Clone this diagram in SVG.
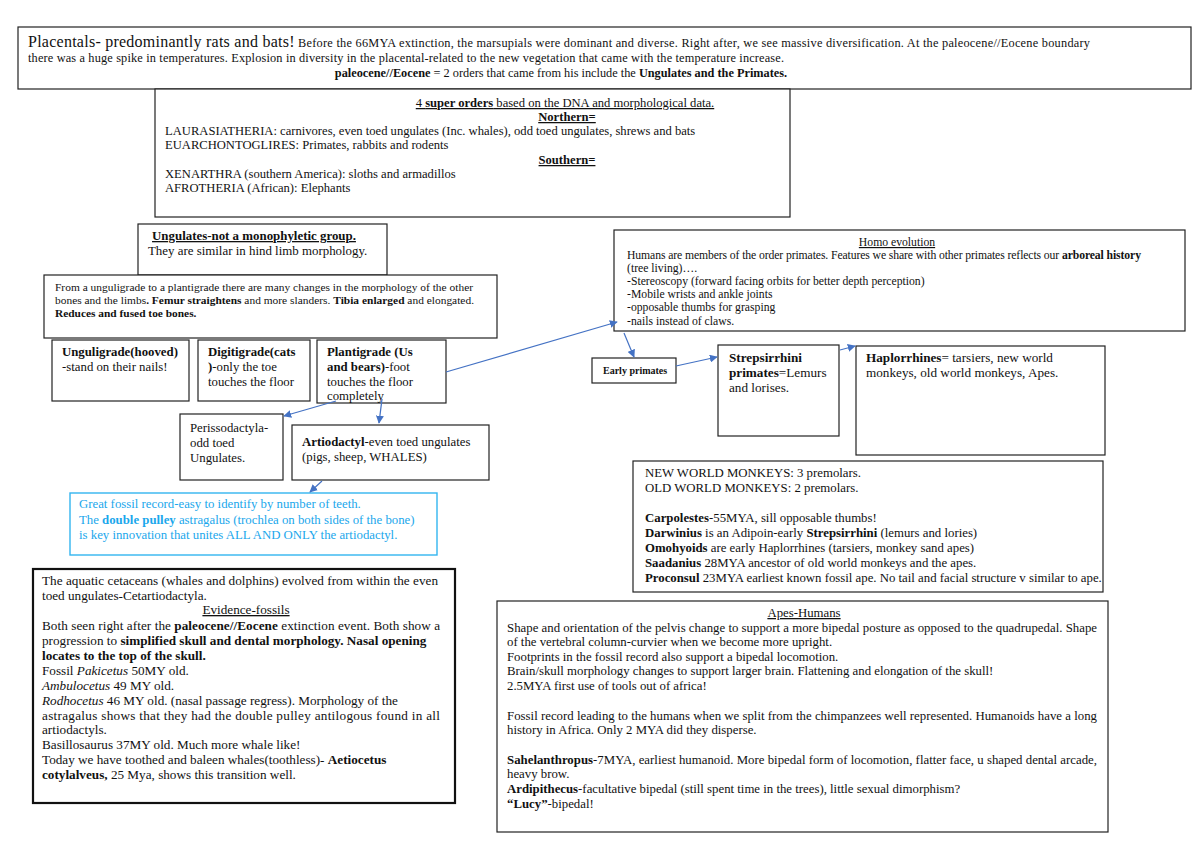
<svg xmlns="http://www.w3.org/2000/svg" width="1200" height="848" viewBox="0 0 1200 848">
<defs>
<marker id="ah" viewBox="0 0 10 10" refX="9" refY="5" markerWidth="8" markerHeight="8" markerUnits="userSpaceOnUse" orient="auto"><path d="M0,0 L10,5 L0,10 z" fill="#4472C4"/></marker>
<style>
text{font-family:"Liberation Serif","Times New Roman",serif;fill:#111;}
.b{font-weight:bold;}
.i{font-style:italic;}
.u{text-decoration:underline;}
.box{fill:#fff;stroke:#222;stroke-width:1.2;}
.thick{fill:#fff;stroke:#111;stroke-width:2.2;}
.blue{fill:#fff;stroke:#33B5F0;stroke-width:1.4;}
.bt{fill:#1AA7EC;}
.top{font-size:12.3px;}
.so{font-size:12.6px;}
.ug{font-size:12.9px;}
.fm{font-size:11.4px;}
.gr{font-size:12.8px;}
.bl{font-size:12.8px;}
.aq{font-size:13.2px;}
.ho{font-size:11.7px;}
.ep{font-size:10px;}
.st{font-size:13.2px;}
.mk{font-size:12.8px;}
.ap{font-size:12.8px;}
.con{stroke:#4472C4;stroke-width:1.2;fill:none;marker-end:url(#ah);}
</style>
</defs>
<rect width="1200" height="848" fill="#fff"/>

<g id="top">
<rect class="box" x="18" y="27" width="1173" height="62"/>
<text x="28" y="47" class="top" textLength="1062" lengthAdjust="spacing"><tspan style="font-size:16px">Placentals- predominantly rats and bats!</tspan> Before the 66MYA extinction, the marsupials were dominant and diverse. Right after, we see massive diversification. At the paleocene//Eocene boundary</text>
<text x="28" y="62" class="top" textLength="756" lengthAdjust="spacing">there was a huge spike in temperatures. Explosion in diversity in the placental-related to the new vegetation that came with the temperature increase.</text>
<text x="561" y="77" class="top" text-anchor="middle"><tspan class="b">paleocene//Eocene</tspan> = 2 orders that came from his include the <tspan class="b">Ungulates and the Primates.</tspan></text>
</g>

<g id="superorders">
<rect class="box" x="155" y="89" width="635" height="128"/>
<text x="565" y="107" class="so u" text-anchor="middle">4 <tspan class="b">super orders</tspan> based on the DNA and morphological data.</text>
<text x="567" y="121" class="so b u" text-anchor="middle">Northern=</text>
<text x="165" y="135" class="so">LAURASIATHERIA: carnivores, even toed ungulates (Inc. whales), odd toed ungulates, shrews and bats</text>
<text x="165" y="149" class="so">EUARCHONTOGLIRES: Primates, rabbits and rodents</text>
<text x="567" y="164" class="so b u" text-anchor="middle">Southern=</text>
<text x="165" y="178" class="so">XENARTHRA (southern America): sloths and armadillos</text>
<text x="165" y="192" class="so">AFROTHERIA (African): Elephants</text>
</g>

<g id="ungulates">
<rect class="box" x="138" y="224" width="249" height="51"/>
<text x="254" y="240" class="ug b u" text-anchor="middle">Ungulates-not a monophyletic group.</text>
<text x="148" y="255" class="ug">They are similar in hind limb morphology.</text>
</g>

<g id="femur">
<rect class="box" x="44" y="275" width="453" height="63"/>
<text x="55" y="291" class="fm" textLength="418" lengthAdjust="spacing">From a unguligrade to a plantigrade there are many changes in the morphology of the other</text>
<text x="55" y="304" class="fm" textLength="419" lengthAdjust="spacing">bones and the limbs<tspan class="b">. Femur straightens</tspan> and more slanders. <tspan class="b">Tibia enlarged</tspan> and elongated.</text>
<text x="55" y="317" class="fm b">Reduces and fused toe bones.</text>
</g>

<g id="unguligrade">
<rect class="box" x="52" y="340" width="137" height="61"/>
<text x="62" y="356" class="gr b">Unguligrade(hooved)</text>
<text x="62" y="371" class="gr">-stand on their nails!</text>
</g>

<g id="digitigrade">
<rect class="box" x="198" y="340" width="112" height="61"/>
<text x="208" y="356" class="gr b">Digitigrade(cats</text>
<text x="208" y="371" class="gr"><tspan class="b">)</tspan>-only the toe</text>
<text x="208" y="386" class="gr">touches the floor</text>
</g>

<g id="plantigrade">
<rect class="box" x="317" y="340" width="129" height="63"/>
<text x="327" y="356" class="gr b">Plantigrade (Us</text>
<text x="327" y="371" class="gr"><tspan class="b">and bears)</tspan>-foot</text>
<text x="327" y="386" class="gr">touches the floor</text>
<text x="327" y="400" class="gr">completely</text>
</g>

<g id="perissodactyla">
<rect class="box" x="180" y="414" width="103" height="66"/>
<text x="190" y="432" class="gr">Perissodactyla-</text>
<text x="190" y="447" class="gr">odd toed</text>
<text x="190" y="462" class="gr">Ungulates.</text>
</g>

<g id="artiodactyl">
<rect class="box" x="292" y="425" width="197" height="55"/>
<text x="302" y="446" class="gr"><tspan class="b">Artiodactyl</tspan>-even toed ungulates</text>
<text x="302" y="461" class="gr">(pigs, sheep, WHALES)</text>
</g>

<g id="doublepulley">
<rect class="blue" x="70" y="493" width="367" height="62"/>
<text x="79" y="508" class="bl bt">Great fossil record-easy to identify by number of teeth.</text>
<text x="79" y="524" class="bl bt">The <tspan class="b">double pulley</tspan> astragalus (trochlea on both sides of the bone)</text>
<text x="79" y="539" class="bl bt">is key innovation that unites ALL AND ONLY the artiodactyl.</text>
</g>

<g id="aquatic">
<rect class="thick" x="33" y="569" width="422" height="234"/>
<text x="42" y="585" class="aq" textLength="396" lengthAdjust="spacing">The aquatic cetaceans (whales and dolphins) evolved from within the even</text>
<text x="42" y="600" class="aq">toed ungulates-Cetartiodactyla.</text>
<text x="246" y="614" class="aq u" text-anchor="middle">Evidence-fossils</text>
<text x="42" y="630" class="aq" textLength="398" lengthAdjust="spacing">Both seen right after the <tspan class="b">paleocene//Eocene</tspan> extinction event. Both show a</text>
<text x="42" y="645" class="aq">progression to <tspan class="b">simplified skull and dental morphology. Nasal opening</tspan></text>
<text x="42" y="660" class="aq b">locates to the top of the skull.</text>
<text x="42" y="675" class="aq">Fossil <tspan class="i">Pakicetus</tspan> 50MY old.</text>
<text x="42" y="690" class="aq"><tspan class="i">Ambulocetus</tspan> 49 MY old.</text>
<text x="42" y="705" class="aq"><tspan class="i">Rodhocetus</tspan> 46 MY old. (nasal passage regress). Morphology of the</text>
<text x="42" y="720" class="aq" textLength="398" lengthAdjust="spacing">astragalus shows that they had the double pulley antilogous found in all</text>
<text x="42" y="734" class="aq">artiodactyls.</text>
<text x="42" y="749" class="aq">Basillosaurus 37MY old. Much more whale like!</text>
<text x="42" y="764" class="aq">Today we have toothed and baleen whales(toothless)- <tspan class="b">Aetiocetus</tspan></text>
<text x="42" y="779" class="aq"><tspan class="b">cotylalveus,</tspan> 25 Mya, shows this transition well.</text>
</g>

<g id="homo">
<rect class="box" x="614" y="230" width="571" height="101"/>
<text x="897" y="246" class="ho u" text-anchor="middle">Homo evolution</text>
<text x="627" y="259" class="ho" textLength="514" lengthAdjust="spacing">Humans are members of the order primates. Features we share with other primates reflects our <tspan class="b">arboreal history</tspan></text>
<text x="627" y="272" class="ho">(tree living)….</text>
<text x="627" y="285" class="ho">-Stereoscopy (forward facing orbits for better depth perception)</text>
<text x="627" y="298" class="ho">-Mobile wrists and ankle joints</text>
<text x="627" y="311" class="ho">-opposable thumbs for grasping</text>
<text x="627" y="325" class="ho">-nails instead of claws.</text>
</g>

<g id="earlyprimates">
<rect class="box" x="592" y="358" width="84" height="25"/>
<text x="603" y="374" class="ep b">Early primates</text>
</g>

<g id="strepsirrhini">
<rect class="box" x="718" y="345" width="121" height="91"/>
<text x="729" y="362" class="st b">Strepsirrhini</text>
<text x="729" y="377" class="st"><tspan class="b">primates</tspan>=Lemurs</text>
<text x="729" y="392" class="st">and lorises.</text>
</g>

<g id="haplorrhines">
<rect class="box" x="856" y="346" width="249" height="109"/>
<text x="866" y="362" class="st"><tspan class="b">Haplorrhines</tspan>= tarsiers, new world</text>
<text x="866" y="377" class="st">monkeys, old world monkeys, Apes.</text>
</g>

<g id="monkeys">
<rect class="box" x="633" y="461" width="470" height="131"/>
<text x="645" y="477" class="mk">NEW WORLD MONKEYS: 3 premolars.</text>
<text x="645" y="492" class="mk">OLD WORLD MONKEYS: 2 premolars.</text>
<text x="645" y="522" class="mk"><tspan class="b">Carpolestes</tspan>-55MYA, sill opposable thumbs!</text>
<text x="645" y="537" class="mk"><tspan class="b">Darwinius</tspan> is an Adipoin-early <tspan class="b">Strepsirrhini</tspan> (lemurs and lories)</text>
<text x="645" y="552" class="mk"><tspan class="b">Omohyoids</tspan> are early Haplorrhines (tarsiers, monkey sand apes)</text>
<text x="645" y="567" class="mk"><tspan class="b">Saadanius</tspan> 28MYA ancestor of old world monkeys and the apes.</text>
<text x="645" y="582" class="mk"><tspan class="b">Proconsul</tspan> 23MYA earliest known fossil ape. No tail and facial structure v similar to ape.</text>
</g>

<g id="apes">
<rect class="box" x="497" y="601" width="611" height="231"/>
<text x="804" y="617" class="ap u" text-anchor="middle">Apes-Humans</text>
<text x="507" y="632" class="ap" textLength="590" lengthAdjust="spacing">Shape and orientation of the pelvis change to support a more bipedal posture as opposed to the quadrupedal. Shape</text>
<text x="507" y="646" class="ap">of the vertebral column-curvier when we become more upright.</text>
<text x="507" y="661" class="ap">Footprints in the fossil record also support a bipedal locomotion.</text>
<text x="507" y="675" class="ap">Brain/skull morphology changes to support larger brain. Flattening and elongation of the skull!</text>
<text x="507" y="690" class="ap">2.5MYA first use of tools out of africa!</text>
<text x="507" y="720" class="ap" textLength="590" lengthAdjust="spacing">Fossil record leading to the humans when we split from the chimpanzees well represented. Humanoids have a long</text>
<text x="507" y="734" class="ap">history in Africa. Only 2 MYA did they disperse.</text>
<text x="507" y="764" class="ap" textLength="590" lengthAdjust="spacing"><tspan class="b">Sahelanthropus</tspan>-7MYA, earliest humanoid. More bipedal form of locomotion, flatter face, u shaped dental arcade,</text>
<text x="507" y="778" class="ap">heavy brow.</text>
<text x="507" y="793" class="ap"><tspan class="b">Ardipithecus</tspan>-facultative bipedal (still spent time in the trees), little sexual dimorphism?</text>
<text x="507" y="808" class="ap"><tspan class="b">“Lucy”</tspan>-bipedal!</text>
</g>

<g id="connectors">
<line class="con" x1="446" y1="372" x2="617" y2="322"/>
<line class="con" x1="624" y1="333" x2="634" y2="357"/>
<line class="con" x1="676" y1="366" x2="717" y2="357"/>
<line class="con" x1="840" y1="350" x2="855" y2="346"/>
<line class="con" x1="336" y1="401" x2="284" y2="416"/>
<line class="con" x1="382" y1="399" x2="379" y2="423"/>
<line class="con" x1="322" y1="481" x2="310" y2="492"/>
</g>
</svg>
